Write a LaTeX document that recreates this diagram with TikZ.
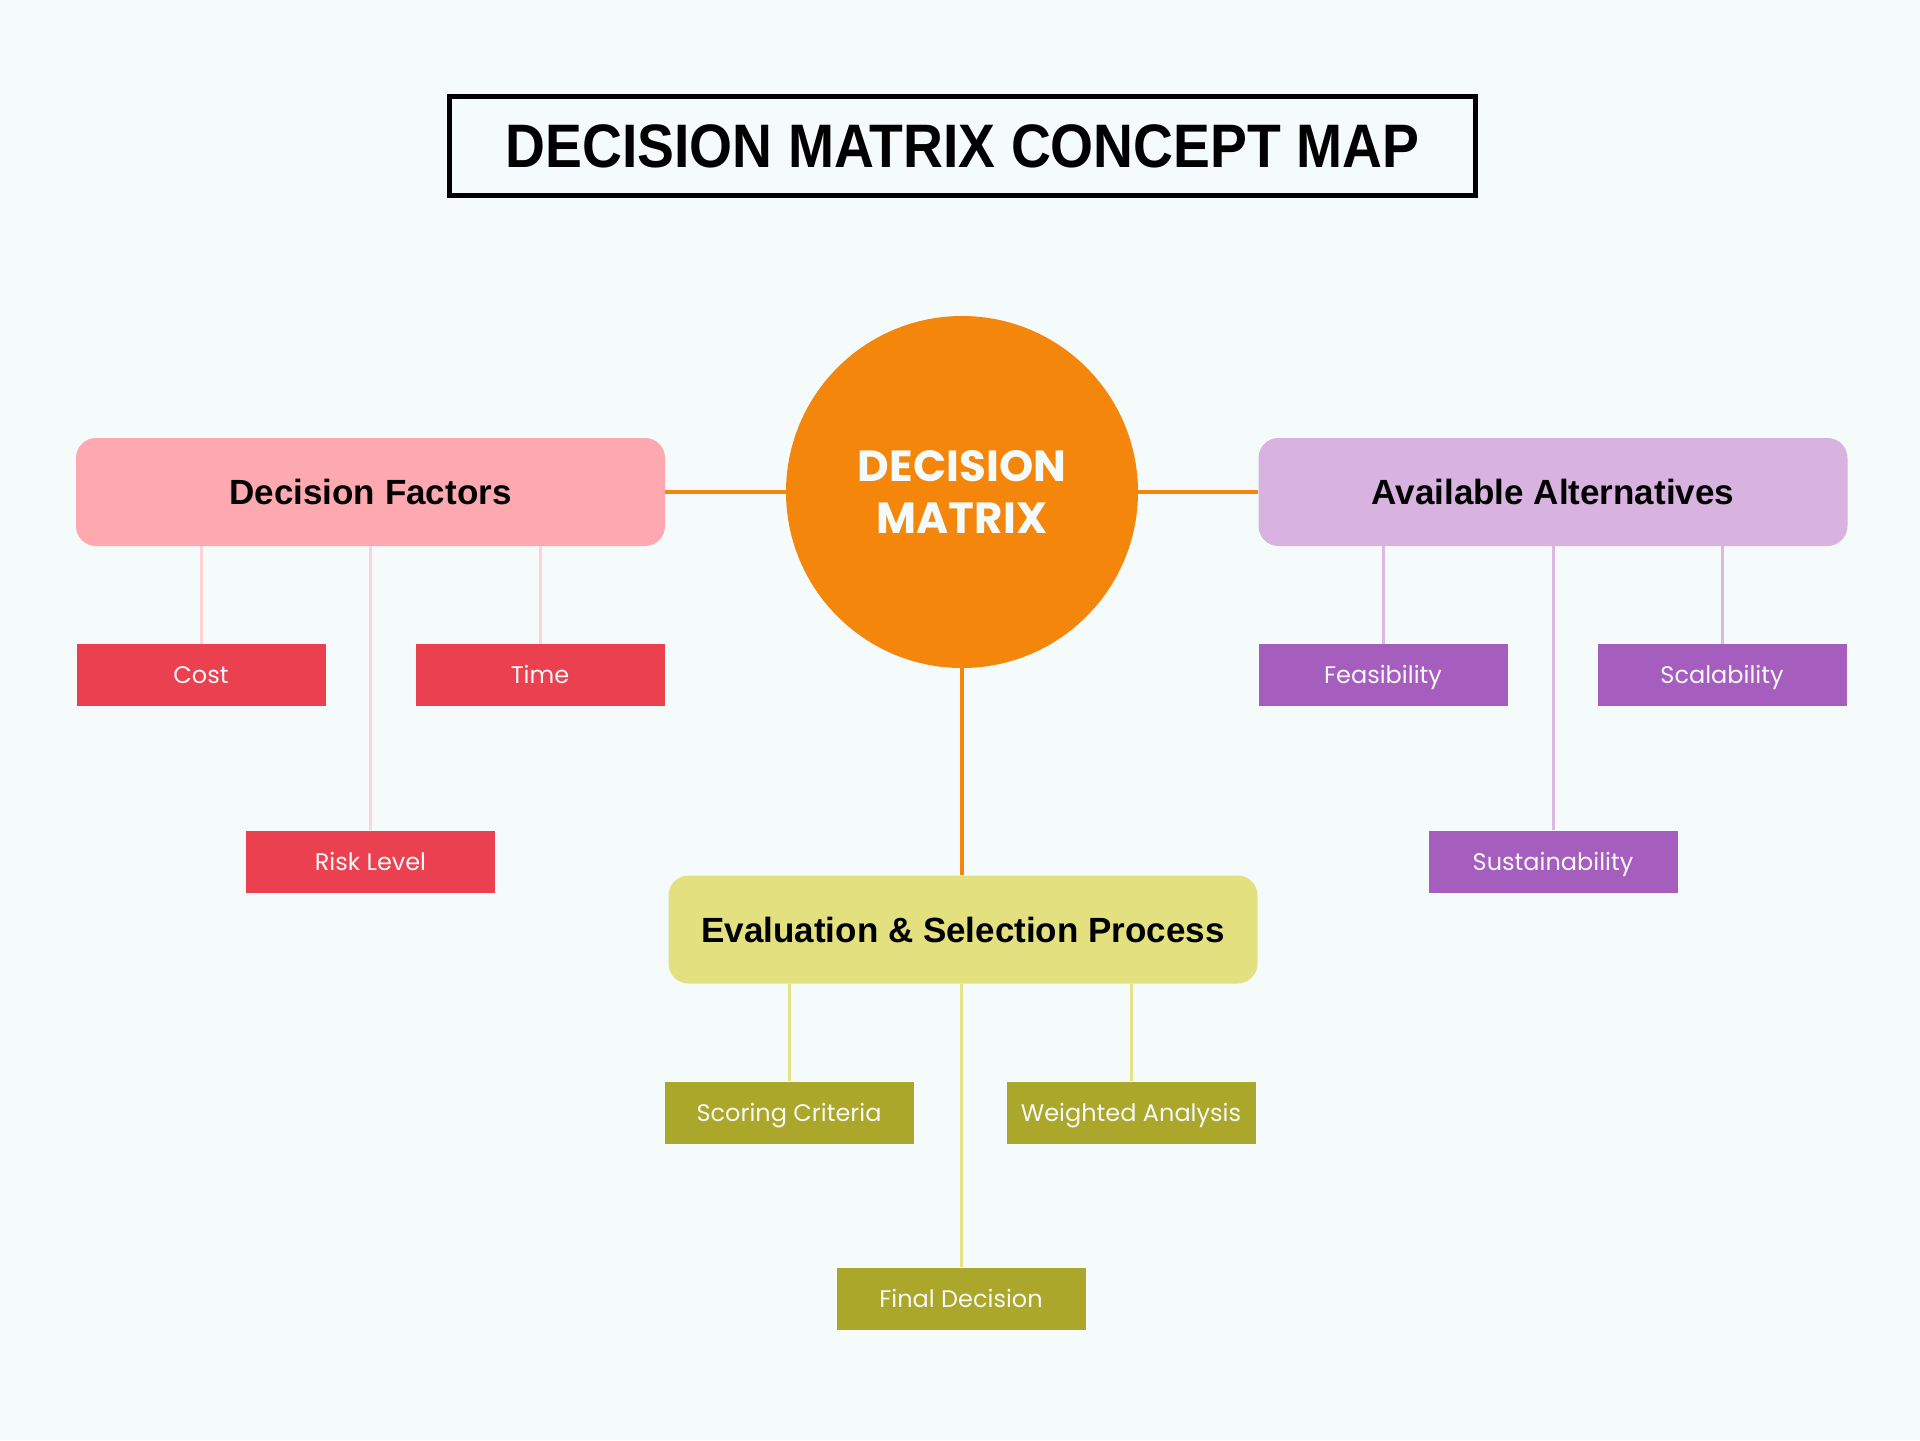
\documentclass[tikz,border=0pt]{standalone}
\usepackage{fontspec}
\setmainfont{Poppins}
\newfontfamily\headfont{Liberation Sans}
\usetikzlibrary{positioning}
\definecolor{bgc}{HTML}{F5FAFB}
\definecolor{orangec}{HTML}{F4860C}
\definecolor{pinkc}{HTML}{FDA9AF}
\definecolor{redc}{HTML}{EA4050}
\definecolor{pinkline}{HTML}{FDD3D7}
\definecolor{lilacc}{HTML}{D9B3E0}
\definecolor{purplec}{HTML}{A55EBE}
\definecolor{lilacline}{HTML}{DDB8E5}
\definecolor{yellowc}{HTML}{E3E07F}
\definecolor{olivec}{HTML}{ABA72A}
\definecolor{yellowline}{HTML}{E5E28A}
\definecolor{leaftext}{HTML}{F7F7F7}
\tikzset{
  titlebox/.style={draw=black, line width=2.5pt, minimum width=513pt, minimum height=49.5pt, inner sep=0pt,
    font=\headfont\bfseries\fontsize{30.7}{36}\selectfont},
  hub/.style={circle, fill=orangec, minimum size=176pt, inner sep=0pt, text=bgc, align=center,
    font=\bfseries\fontsize{21.8}{25.7}\selectfont},
  catbox/.style={rounded corners=10pt, minimum width=294.5pt, minimum height=54pt, inner sep=0pt,
    text height=12.6pt, text depth=0pt,
    font=\headfont\bfseries\fontsize{17.5}{21}\selectfont},
  leafbox/.style={minimum width=124.5pt, minimum height=31pt, inner sep=0pt, text=leaftext,
    text height=8.5pt, text depth=0pt,
    font=\fontsize{12}{14}\selectfont},
  hubline/.style={draw=orangec, line width=2pt},
  subline/.style={line width=1.5pt}
}
\begin{document}
\begin{tikzpicture}[x=0.5pt,y=-0.5pt]
\fill[bgc] (0,0) rectangle (1920,1440);
\useasboundingbox (0,0) rectangle (1920,1440);

\node[titlebox] (title) at (962.5,146) {\scalebox{0.9}[1]{DECISION MATRIX CONCEPT MAP}};

\node[hub] (hub) at (962,492) {DECISION\\MATRIX};

\node[catbox, fill=pinkc] (df) at (370.5,492) {Decision Factors};
\node[catbox, fill=lilacc] (aa) at (1553,492) {Available Alternatives};
\node[catbox, fill=yellowc] (ev) at (963,929.5) {Evaluation \& Selection Process};

\node[leafbox, fill=redc] (cost) at (201,675) {Cost};
\node[leafbox, fill=redc] (time) at (540,675) {Time};
\node[leafbox, fill=redc] (risk) at (370.5,861.5) {Risk Level};

\node[leafbox, fill=purplec] (feas) at (1383,675) {Feasibility};
\node[leafbox, fill=purplec] (scal) at (1722,675) {Scalability};
\node[leafbox, fill=purplec] (sust) at (1553,861.5) {Sustainability};

\node[leafbox, fill=olivec] (score) at (789,1112.5) {Scoring Criteria};
\node[leafbox, fill=olivec] (weight) at (1131,1112.5) {Weighted Analysis};
\node[leafbox, fill=olivec] (final) at (961,1298.5) {Final Decision};

\draw[hubline] (df.east) -- (hub.west);
\draw[hubline] (hub.east) -- (aa.west);
\draw[hubline] (hub.south) -- (hub.south |- ev.north);

\draw[subline, pinkline] (cost.north |- df.south) -- (cost.north);
\draw[subline, pinkline] (time.north |- df.south) -- (time.north);
\draw[subline, pinkline] (risk.north |- df.south) -- (risk.north);

\draw[subline, lilacline] (feas.north |- aa.south) -- (feas.north);
\draw[subline, lilacline] (scal.north |- aa.south) -- (scal.north);
\draw[subline, lilacline] (sust.north |- aa.south) -- (sust.north);

\draw[subline, yellowline] (score.north |- ev.south) -- (score.north);
\draw[subline, yellowline] (weight.north |- ev.south) -- (weight.north);
\draw[subline, yellowline] (final.north |- ev.south) -- (final.north);
\end{tikzpicture}
\end{document}
